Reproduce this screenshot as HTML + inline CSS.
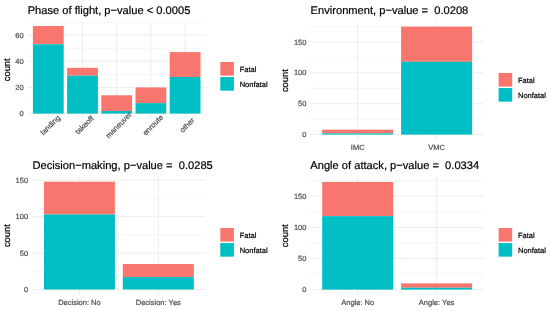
<!DOCTYPE html>
<html><head><meta charset="utf-8"><title>Figure</title>
<style>html,body{margin:0;padding:0;background:#fff}svg{display:block}text{font-family:"Liberation Sans",sans-serif;stroke-width:0.2px;text-rendering:geometricPrecision}</style>
</head><body>
<svg width="550" height="311" viewBox="0 0 550 311">
<rect width="550" height="311" fill="#fff"/>
<line x1="27.80" x2="205.60" y1="100.52" y2="100.52" stroke="#ebebeb" stroke-width="0.5"/>
<line x1="27.80" x2="205.60" y1="74.36" y2="74.36" stroke="#ebebeb" stroke-width="0.5"/>
<line x1="27.80" x2="205.60" y1="48.20" y2="48.20" stroke="#ebebeb" stroke-width="0.5"/>
<line x1="27.80" x2="205.60" y1="22.04" y2="22.04" stroke="#ebebeb" stroke-width="0.5"/>
<line x1="27.80" x2="205.60" y1="113.60" y2="113.60" stroke="#ebebeb" stroke-width="0.9"/>
<line x1="27.80" x2="205.60" y1="87.44" y2="87.44" stroke="#ebebeb" stroke-width="0.9"/>
<line x1="27.80" x2="205.60" y1="61.28" y2="61.28" stroke="#ebebeb" stroke-width="0.9"/>
<line x1="27.80" x2="205.60" y1="35.12" y2="35.12" stroke="#ebebeb" stroke-width="0.9"/>
<line x1="48.30" x2="48.30" y1="21.58" y2="117.98" stroke="#ebebeb" stroke-width="0.9"/>
<line x1="82.50" x2="82.50" y1="21.58" y2="117.98" stroke="#ebebeb" stroke-width="0.9"/>
<line x1="116.70" x2="116.70" y1="21.58" y2="117.98" stroke="#ebebeb" stroke-width="0.9"/>
<line x1="150.90" x2="150.90" y1="21.58" y2="117.98" stroke="#ebebeb" stroke-width="0.9"/>
<line x1="185.10" x2="185.10" y1="21.58" y2="117.98" stroke="#ebebeb" stroke-width="0.9"/>
<rect x="32.90" y="25.96" width="30.80" height="18.31" fill="#F8766D"/>
<rect x="32.90" y="44.28" width="30.80" height="69.32" fill="#00BFC4"/>
<rect x="67.10" y="67.82" width="30.80" height="7.85" fill="#F8766D"/>
<rect x="67.10" y="75.67" width="30.80" height="37.93" fill="#00BFC4"/>
<rect x="101.30" y="95.29" width="30.80" height="15.70" fill="#F8766D"/>
<rect x="101.30" y="110.98" width="30.80" height="2.62" fill="#00BFC4"/>
<rect x="135.50" y="87.44" width="30.80" height="15.70" fill="#F8766D"/>
<rect x="135.50" y="103.14" width="30.80" height="10.46" fill="#00BFC4"/>
<rect x="169.70" y="52.12" width="30.80" height="24.85" fill="#F8766D"/>
<rect x="169.70" y="76.98" width="30.80" height="36.62" fill="#00BFC4"/>
<text x="23.70" y="116.10" text-anchor="end" font-size="7.5" fill="#4d4d4d" stroke="#4d4d4d" stroke-width="0.06">0</text>
<text x="23.70" y="89.94" text-anchor="end" font-size="7.5" fill="#4d4d4d" stroke="#4d4d4d" stroke-width="0.06">20</text>
<text x="23.70" y="63.78" text-anchor="end" font-size="7.5" fill="#4d4d4d" stroke="#4d4d4d" stroke-width="0.06">40</text>
<text x="23.70" y="37.62" text-anchor="end" font-size="7.5" fill="#4d4d4d" stroke="#4d4d4d" stroke-width="0.06">60</text>
<text transform="translate(50.17,124.98) rotate(-45)" text-anchor="middle" y="2.65" font-size="7.5" fill="#4d4d4d" stroke="#4d4d4d" stroke-width="0.06">landing</text>
<text transform="translate(84.37,124.98) rotate(-45)" text-anchor="middle" y="2.65" font-size="7.5" fill="#4d4d4d" stroke="#4d4d4d" stroke-width="0.06">takeoff</text>
<text transform="translate(118.57,124.98) rotate(-45)" text-anchor="middle" y="2.65" font-size="7.5" fill="#4d4d4d" stroke="#4d4d4d" stroke-width="0.06">maneuver</text>
<text transform="translate(152.77,124.98) rotate(-45)" text-anchor="middle" y="2.65" font-size="7.5" fill="#4d4d4d" stroke="#4d4d4d" stroke-width="0.06">enroute</text>
<text transform="translate(186.97,124.98) rotate(-45)" text-anchor="middle" y="2.65" font-size="7.5" fill="#4d4d4d" stroke="#4d4d4d" stroke-width="0.06">other</text>
<text x="27.70" y="13.90" font-size="11.14" fill="#000" stroke="#000" xml:space="preserve">Phase of flight, p−value &lt; 0.0005</text>
<text transform="translate(10.20,69.78) rotate(-90)" text-anchor="middle" font-size="9.4" fill="#000" stroke="#000" stroke-width="0.3">count</text>
<rect x="220.30" y="62.00" width="13.6" height="13.6" fill="#F8766D"/>
<rect x="220.30" y="77.05" width="13.6" height="13.6" fill="#00BFC4"/>
<text x="239.70" y="71.90" font-size="7.5" fill="#000" stroke="#000" stroke-width="0.1">Fatal</text>
<text x="239.70" y="86.95" font-size="7.5" fill="#000" stroke="#000" stroke-width="0.1">Nonfatal</text>
<line x1="310.40" x2="483.90" y1="119.17" y2="119.17" stroke="#ebebeb" stroke-width="0.5"/>
<line x1="310.40" x2="483.90" y1="88.32" y2="88.32" stroke="#ebebeb" stroke-width="0.5"/>
<line x1="310.40" x2="483.90" y1="57.47" y2="57.47" stroke="#ebebeb" stroke-width="0.5"/>
<line x1="310.40" x2="483.90" y1="26.62" y2="26.62" stroke="#ebebeb" stroke-width="0.5"/>
<line x1="310.40" x2="483.90" y1="134.60" y2="134.60" stroke="#ebebeb" stroke-width="0.9"/>
<line x1="310.40" x2="483.90" y1="103.75" y2="103.75" stroke="#ebebeb" stroke-width="0.9"/>
<line x1="310.40" x2="483.90" y1="72.90" y2="72.90" stroke="#ebebeb" stroke-width="0.9"/>
<line x1="310.40" x2="483.90" y1="42.05" y2="42.05" stroke="#ebebeb" stroke-width="0.9"/>
<line x1="357.70" x2="357.70" y1="21.23" y2="140.00" stroke="#ebebeb" stroke-width="0.9"/>
<line x1="436.60" x2="436.60" y1="21.23" y2="140.00" stroke="#ebebeb" stroke-width="0.9"/>
<rect x="322.20" y="129.66" width="71.00" height="3.70" fill="#F8766D"/>
<rect x="322.20" y="133.37" width="71.00" height="1.23" fill="#00BFC4"/>
<rect x="401.10" y="26.62" width="71.00" height="35.17" fill="#F8766D"/>
<rect x="401.10" y="61.79" width="71.00" height="72.81" fill="#00BFC4"/>
<text x="306.40" y="137.10" text-anchor="end" font-size="7.5" fill="#4d4d4d" stroke="#4d4d4d" stroke-width="0.06">0</text>
<text x="306.40" y="106.25" text-anchor="end" font-size="7.5" fill="#4d4d4d" stroke="#4d4d4d" stroke-width="0.06">50</text>
<text x="306.40" y="75.40" text-anchor="end" font-size="7.5" fill="#4d4d4d" stroke="#4d4d4d" stroke-width="0.06">100</text>
<text x="306.40" y="44.55" text-anchor="end" font-size="7.5" fill="#4d4d4d" stroke="#4d4d4d" stroke-width="0.06">150</text>
<text x="357.70" y="149.60" text-anchor="middle" font-size="7.5" fill="#4d4d4d" stroke="#4d4d4d" stroke-width="0.06">IMC</text>
<text x="436.60" y="149.60" text-anchor="middle" font-size="7.5" fill="#4d4d4d" stroke="#4d4d4d" stroke-width="0.06">VMC</text>
<text x="310.60" y="13.90" font-size="11.14" fill="#000" stroke="#000" xml:space="preserve">Environment, p−value =  0.0208</text>
<text transform="translate(288.20,80.61) rotate(-90)" text-anchor="middle" font-size="9.4" fill="#000" stroke="#000" stroke-width="0.3">count</text>
<rect x="498.60" y="73.00" width="13.6" height="13.6" fill="#F8766D"/>
<rect x="498.60" y="88.05" width="13.6" height="13.6" fill="#00BFC4"/>
<text x="518.00" y="82.90" font-size="7.5" fill="#000" stroke="#000" stroke-width="0.1">Fatal</text>
<text x="518.00" y="97.95" font-size="7.5" fill="#000" stroke="#000" stroke-width="0.1">Nonfatal</text>
<line x1="32.10" x2="205.60" y1="271.29" y2="271.29" stroke="#ebebeb" stroke-width="0.5"/>
<line x1="32.10" x2="205.60" y1="234.87" y2="234.87" stroke="#ebebeb" stroke-width="0.5"/>
<line x1="32.10" x2="205.60" y1="198.45" y2="198.45" stroke="#ebebeb" stroke-width="0.5"/>
<line x1="32.10" x2="205.60" y1="289.50" y2="289.50" stroke="#ebebeb" stroke-width="0.9"/>
<line x1="32.10" x2="205.60" y1="253.08" y2="253.08" stroke="#ebebeb" stroke-width="0.9"/>
<line x1="32.10" x2="205.60" y1="216.66" y2="216.66" stroke="#ebebeb" stroke-width="0.9"/>
<line x1="32.10" x2="205.60" y1="180.24" y2="180.24" stroke="#ebebeb" stroke-width="0.9"/>
<line x1="79.40" x2="79.40" y1="176.31" y2="294.89" stroke="#ebebeb" stroke-width="0.9"/>
<line x1="158.30" x2="158.30" y1="176.31" y2="294.89" stroke="#ebebeb" stroke-width="0.9"/>
<rect x="43.90" y="181.70" width="71.00" height="32.78" fill="#F8766D"/>
<rect x="43.90" y="214.47" width="71.00" height="75.03" fill="#00BFC4"/>
<rect x="122.80" y="264.01" width="71.00" height="13.11" fill="#F8766D"/>
<rect x="122.80" y="277.12" width="71.00" height="12.38" fill="#00BFC4"/>
<text x="28.10" y="292.00" text-anchor="end" font-size="7.5" fill="#4d4d4d" stroke="#4d4d4d" stroke-width="0.06">0</text>
<text x="28.10" y="255.58" text-anchor="end" font-size="7.5" fill="#4d4d4d" stroke="#4d4d4d" stroke-width="0.06">50</text>
<text x="28.10" y="219.16" text-anchor="end" font-size="7.5" fill="#4d4d4d" stroke="#4d4d4d" stroke-width="0.06">100</text>
<text x="28.10" y="182.74" text-anchor="end" font-size="7.5" fill="#4d4d4d" stroke="#4d4d4d" stroke-width="0.06">150</text>
<text x="79.40" y="304.60" text-anchor="middle" font-size="7.5" fill="#4d4d4d" stroke="#4d4d4d" stroke-width="0.06">Decision: No</text>
<text x="158.30" y="304.60" text-anchor="middle" font-size="7.5" fill="#4d4d4d" stroke="#4d4d4d" stroke-width="0.06">Decision: Yes</text>
<text x="32.50" y="168.50" font-size="11.14" fill="#000" stroke="#000" xml:space="preserve">Decision−making, p−value =  0.0285</text>
<text transform="translate(10.20,235.60) rotate(-90)" text-anchor="middle" font-size="9.4" fill="#000" stroke="#000" stroke-width="0.3">count</text>
<rect x="220.30" y="228.00" width="13.6" height="13.6" fill="#F8766D"/>
<rect x="220.30" y="243.05" width="13.6" height="13.6" fill="#00BFC4"/>
<text x="239.70" y="237.90" font-size="7.5" fill="#000" stroke="#000" stroke-width="0.1">Fatal</text>
<text x="239.70" y="252.95" font-size="7.5" fill="#000" stroke="#000" stroke-width="0.1">Nonfatal</text>
<line x1="310.40" x2="483.90" y1="274.04" y2="274.04" stroke="#ebebeb" stroke-width="0.5"/>
<line x1="310.40" x2="483.90" y1="242.91" y2="242.91" stroke="#ebebeb" stroke-width="0.5"/>
<line x1="310.40" x2="483.90" y1="211.79" y2="211.79" stroke="#ebebeb" stroke-width="0.5"/>
<line x1="310.40" x2="483.90" y1="180.66" y2="180.66" stroke="#ebebeb" stroke-width="0.5"/>
<line x1="310.40" x2="483.90" y1="289.60" y2="289.60" stroke="#ebebeb" stroke-width="0.9"/>
<line x1="310.40" x2="483.90" y1="258.48" y2="258.48" stroke="#ebebeb" stroke-width="0.9"/>
<line x1="310.40" x2="483.90" y1="227.35" y2="227.35" stroke="#ebebeb" stroke-width="0.9"/>
<line x1="310.40" x2="483.90" y1="196.23" y2="196.23" stroke="#ebebeb" stroke-width="0.9"/>
<line x1="357.70" x2="357.70" y1="176.52" y2="294.98" stroke="#ebebeb" stroke-width="0.9"/>
<line x1="436.60" x2="436.60" y1="176.52" y2="294.98" stroke="#ebebeb" stroke-width="0.9"/>
<rect x="322.20" y="181.91" width="71.00" height="34.24" fill="#F8766D"/>
<rect x="322.20" y="216.15" width="71.00" height="73.46" fill="#00BFC4"/>
<rect x="401.10" y="283.38" width="71.00" height="4.36" fill="#F8766D"/>
<rect x="401.10" y="287.73" width="71.00" height="1.87" fill="#00BFC4"/>
<text x="306.40" y="292.10" text-anchor="end" font-size="7.5" fill="#4d4d4d" stroke="#4d4d4d" stroke-width="0.06">0</text>
<text x="306.40" y="260.98" text-anchor="end" font-size="7.5" fill="#4d4d4d" stroke="#4d4d4d" stroke-width="0.06">50</text>
<text x="306.40" y="229.85" text-anchor="end" font-size="7.5" fill="#4d4d4d" stroke="#4d4d4d" stroke-width="0.06">100</text>
<text x="306.40" y="198.73" text-anchor="end" font-size="7.5" fill="#4d4d4d" stroke="#4d4d4d" stroke-width="0.06">150</text>
<text x="357.70" y="304.60" text-anchor="middle" font-size="7.5" fill="#4d4d4d" stroke="#4d4d4d" stroke-width="0.06">Angle: No</text>
<text x="436.60" y="304.60" text-anchor="middle" font-size="7.5" fill="#4d4d4d" stroke="#4d4d4d" stroke-width="0.06">Angle: Yes</text>
<text x="310.30" y="168.50" font-size="11.14" fill="#000" stroke="#000" xml:space="preserve">Angle of attack, p−value =  0.0334</text>
<text transform="translate(288.20,235.75) rotate(-90)" text-anchor="middle" font-size="9.4" fill="#000" stroke="#000" stroke-width="0.3">count</text>
<rect x="498.60" y="228.00" width="13.6" height="13.6" fill="#F8766D"/>
<rect x="498.60" y="243.05" width="13.6" height="13.6" fill="#00BFC4"/>
<text x="518.00" y="237.90" font-size="7.5" fill="#000" stroke="#000" stroke-width="0.1">Fatal</text>
<text x="518.00" y="252.95" font-size="7.5" fill="#000" stroke="#000" stroke-width="0.1">Nonfatal</text>
</svg>
</body></html>
